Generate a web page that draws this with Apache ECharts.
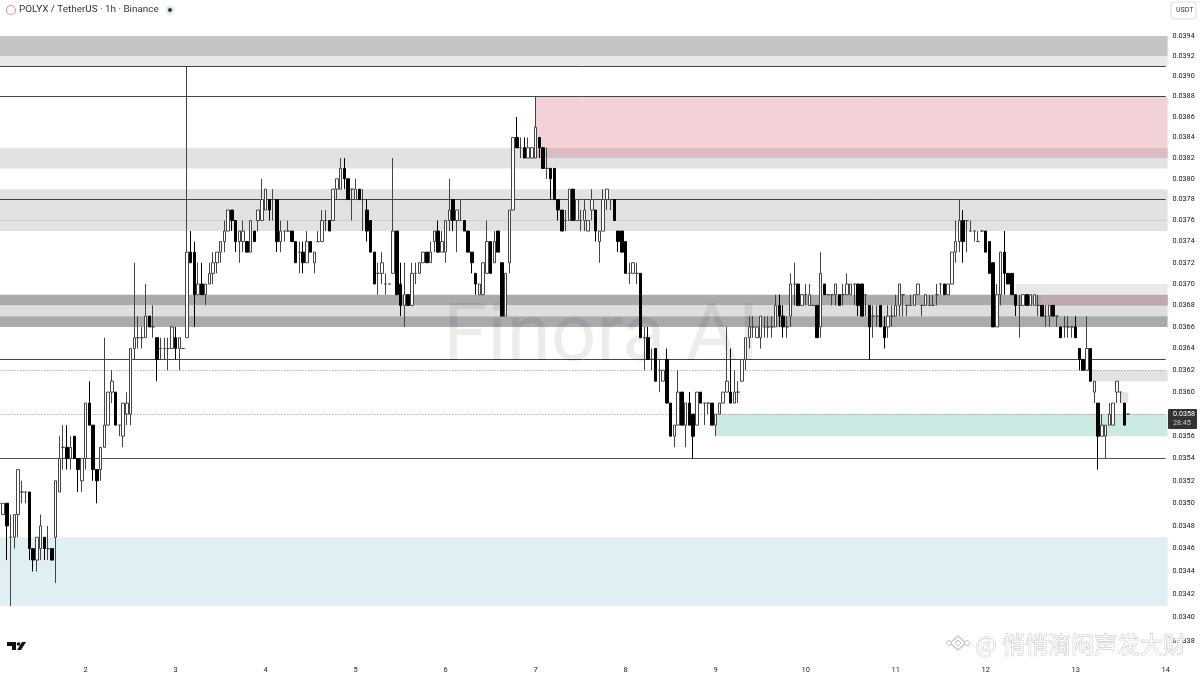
<!DOCTYPE html>
<html><head><meta charset="utf-8">
<style>html,body{margin:0;padding:0;background:#fff;overflow:hidden;width:1200px;height:675px}#c{position:absolute;left:-10px;top:0;width:1210px;height:675px}</style>
<script src="https://cdn.jsdelivr.net/npm/echarts@6/dist/echarts.min.js"></script>
</head><body><div id="c"></div>
<script>
// Candles per calendar day: [open, close, low, high] in price ticks of 0.0001
const priceTick = 0.0001;
const day01 = [[350,350,349,350],[349,350,349,350],[350,348,345,350],[347,347,341,349],[347,349,346,349],[349,353,347,353],[351,351,350,352],[351,351,350,351],[351,346,345,351],[346,345,344,346],[345,347,344,347],[346,348,345,349],[347,346,345,347],[346,346,345,348],[346,345,345,346],[347,352,343,352],[351,354,351,356],[355,355,353,357],[355,354,353,357],[354,355,353,356],[356,354,354,356],[354,353,351,354],[352,354,351,354]];
const day02 = [[354,359,353,359],[359,357,357,361],[357,353,352,357],[353,352,350,353],[353,355,352,355],[355,357,355,365],[357,360,357,360],[360,361,359,362],[360,357,357,360],[357,357,356,357],[356,359,355,359],[358,359,357,360],[358,364,357,364],[364,365,363,372],[365,365,364,367],[365,365,364,366],[365,367,365,370],[367,366,366,367],[366,366,365,368],[365,363,361,365],[364,364,363,365],[364,364,363,365],[364,364,362,365],[364,366,364,366]];
const day03 = [[365,364,363,366],[364,365,362,365],[364,364,364,364],[365,373,365,391],[373,372,372,375],[373,369,366,374],[369,370,369,372],[370,369,369,372],[369,370,368,370],[370,371,370,372],[371,372,370,373],[372,373,371,373],[373,374,372,374],[374,375,373,376],[375,377,375,377],[377,376,375,377],[376,374,373,376],[374,375,372,375],[374,375,373,376],[374,373,373,374],[373,376,373,376],[375,374,374,375],[376,377,375,377],[376,378,376,380]];
const day04 = [[377,379,377,379],[378,377,376,378],[378,378,376,379],[378,374,373,378],[374,375,373,376],[375,375,374,375],[375,375,375,376],[375,374,374,375],[374,372,372,374],[373,373,371,374],[373,372,371,374],[372,374,372,375],[374,373,373,374],[372,373,371,373],[374,374,374,375],[374,376,374,377],[376,376,375,377],[376,375,375,376],[376,379,376,379],[379,380,378,380],[379,381,379,382],[381,380,379,382],[380,378,378,380],[379,379,376,379]];
const day05 = [[378,379,378,380],[379,378,378,379],[378,378,375,379],[377,375,374,378],[376,373,373,376],[373,370,370,373],[371,371,369,372],[371,372,370,373],[370,370,369,371],[370,370,370,370],[371,375,371,382],[375,369,369,375],[370,368,367,372],[368,369,366,372],[369,368,368,369],[368,371,368,372],[371,371,370,372],[371,372,371,372],[372,373,372,373],[373,372,372,373],[372,373,372,374],[374,375,373,375],[375,373,373,376],[373,374,373,375]];
const day06 = [[373,376,372,376],[376,377,375,380],[378,376,375,378],[376,377,373,377],[376,376,376,378],[376,375,375,376],[375,373,373,375],[373,372,371,373],[371,370,369,371],[369,370,369,370],[369,372,369,372],[371,374,371,376],[374,371,371,374],[372,374,372,375],[375,373,373,375],[372,367,367,372],[367,371,367,371],[372,377,371,377],[377,384,377,384],[384,383,383,386],[383,383,382,384],[383,382,382,384],[382,383,382,384],[382,383,382,383]];
const day07 = [[382,385,382,388],[384,383,382,384],[383,381,381,383],[381,381,380,383],[381,380,378,381],[381,378,378,381],[378,377,376,378],[377,375,375,377],[376,376,375,377],[376,379,376,379],[379,376,376,379],[376,378,376,378],[376,376,375,377],[376,377,375,378],[375,376,375,376],[377,378,376,379],[377,375,374,377],[374,375,372,375],[375,378,375,379],[378,379,377,379],[378,378,377,378],[378,376,376,378],[375,374,373,375],[375,373,373,375]];
const day08 = [[374,371,371,374],[371,371,370,372],[371,372,371,372],[371,371,370,372],[371,365,365,371],[365,365,362,366],[365,363,363,366],[363,363,362,364],[364,361,361,364],[362,362,360,363],[361,362,361,362],[363,359,359,364],[359,356,356,359],[356,357,355,357],[357,360,357,362],[360,357,357,360],[357,359,355,359],[359,357,357,360],[358,356,354,358],[357,360,357,360],[360,359,359,360],[359,359,357,359],[359,359,358,359],[359,357,357,359]];
const day09 = [[357,358,356,358],[358,359,358,359],[359,360,359,360],[360,361,360,366],[360,359,359,364],[359,360,359,362],[360,360,359,361],[361,363,361,363],[363,365,362,365],[365,366,364,367],[366,366,365,367],[365,366,365,366],[365,367,364,367],[366,366,365,367],[366,366,365,367],[366,366,365,367],[366,368,366,369],[368,367,366,369],[367,366,365,368],[366,366,365,367],[367,370,366,371],[370,370,368,372],[370,368,368,370],[368,369,368,369]];
const day10 = [[369,369,368,370],[368,369,368,370],[368,368,368,368],[368,365,365,368],[366,371,365,373],[370,369,369,370],[369,369,369,369],[369,369,368,369],[369,370,368,370],[369,368,368,369],[369,369,368,370],[369,370,369,371],[369,370,369,370],[370,370,368,370],[370,368,367,370],[370,367,367,370],[369,369,367,369],[368,366,363,368],[367,367,365,368],[367,367,366,368],[368,366,366,368],[366,365,364,367],[366,367,365,368],[367,367,366,368]];
const day11 = [[367,368,367,369],[368,370,367,370],[369,369,367,369],[368,368,367,368],[368,368,368,369],[368,369,368,369],[369,370,369,370],[368,368,367,368],[368,369,368,369],[368,368,368,369],[368,368,368,369],[369,369,368,370],[370,370,369,370],[370,369,369,370],[369,370,369,370],[370,373,370,373],[373,374,372,376],[374,376,373,378],[376,374,372,377],[376,376,373,376],[375,375,375,376],[375,375,374,375],[374,374,374,375],[375,375,375,375]];
const day12 = [[375,373,373,375],[374,371,371,374],[372,366,366,372],[366,369,366,370],[369,373,368,373],[373,371,369,375],[371,370,370,371],[371,369,369,371],[369,368,367,369],[368,368,365,369],[368,369,368,369],[369,368,368,369],[368,369,368,369],[368,369,368,369],[368,368,367,369],[368,367,367,368],[367,367,366,368],[367,368,366,368],[368,367,367,368],[367,367,366,367],[366,365,365,366],[366,366,365,367],[366,366,365,367],[366,366,365,366]];
const day13 = [[366,365,365,367],[364,363,362,364],[363,362,362,363],[362,364,362,367],[364,361,361,364],[360,361,359,361],[359,356,353,359],[356,357,356,358],[356,357,354,357],[357,358,357,359],[357,359,357,359],[360,361,359,361],[360,360,359,360],[359,357,357,359],[358,358,358,358]];

const priceTicks = [0.0338,0.0340,0.0342,0.0344,0.0346,0.0348,0.0350,0.0352,0.0354,0.0356,0.0358,0.0360,0.0362,0.0364,0.0366,0.0368,0.0370,0.0372,0.0374,0.0376,0.0378,0.0380,0.0382,0.0384,0.0386,0.0388,0.0390,0.0392,0.0394];
const dayLabels = ['2','3','4','5','6','7','8','9','10','11','12','13','14'];
const firstDayIndex = 23, hoursPerDay = 24, slotCount = 312;

// Price levels: solid and dotted horizontal lines
const solidLevels = [0.0391,0.0388,0.0378,0.0363,0.0354];
const dottedLevels = [0.0362,0.0358];
const faintLevels = [0.0376];
// Zones: [top price, bottom price, first candle index or null, last candle index or null, kind]
const zones = [
  [0.0394,0.0392,null,null,'greyMid'],
  [0.0392,0.0391,null,null,'greyLight'],
  [0.0383,0.0381,null,null,'greyBand'],
  [0.0388,0.0383,143,null,'red'],
  [0.0383,0.0382,143,null,'redOverGrey'],
  [0.0379,0.0375,null,null,'greyBand'],
  [0.0369,0.0368,null,null,'greyDark'],
  [0.0368,0.0367,null,null,'greyLight2'],
  [0.0367,0.0366,null,null,'greyDark'],
  [0.0370,0.0369,271,null,'greyLight'],
  [0.0369,0.0368,278,null,'pink'],
  [0.0362,0.0361,291,null,'greyBand'],
  [0.0360,0.0359,299,301,'greyBand'],
  [0.0358,0.0356,191,null,'green'],
  [0.0347,0.0341,null,null,'blue']
];
const zoneColors = {greyMid:'#c4c4c6',greyLight:'#e8e8ea',greyBand:'#e1e2e4',red:'#f2d2d7',redOverGrey:'#dcbcc2',greyDark:'#aaaaad',greyLight2:'#dedee0',pink:'#bfa9ad',green:'#cde9e3',blue:'#e0eff3'};

const candles = [].concat(day01,day02,day03,day04,day05,day06,day07,day08,day09,day10,day11,day12,day13);
const categories = Array.from({length:slotCount},(_,i)=>{
  const k=(i-firstDayIndex)/hoursPerDay;
  return Number.isInteger(k)&&k>=0?dayLabels[k]:'';
});
const seriesData = candles.map(r=>r.map(v=>+(v*priceTick).toFixed(4)));
const areaData = zones.map(z=>{
  const a={yAxis:z[0],itemStyle:{color:zoneColors[z[4]],opacity:1}}, b={yAxis:z[1]};
  if(z[2]!==null)a.xAxis=z[2];
  if(z[3]!==null)b.xAxis=z[3];
  return [a,b];
});
const lineItem=(v,style)=>[{coord:[0,v],lineStyle:style},{coord:[slotCount-1,v]}];
const lineData=[
  ...faintLevels.map(v=>lineItem(v,{color:'#cfcfd1',width:1,type:'solid'})),
  ...solidLevels.map(v=>lineItem(v,{color:v===0.0354?'#555':'#444',width:v===0.0354?1.2:1,type:'solid'})),
  ...dottedLevels.map(v=>lineItem(v,{color:'#888',width:1,type:[1,2]}))
];

const chart = echarts.init(document.getElementById('c'),null,{renderer:'canvas'});
const FONT='Roboto';
const off=10; // the canvas starts 10px left of the page
const label=(x,y,text,size,fill,z,extra)=>({type:'text',z,x:x+off,y,silent:true,style:Object.assign({text,fontFamily:FONT,fontSize:size,fill,align:'left',verticalAlign:'top'},extra||{})});
const poly=(pts,style,z)=>({type:'polygon',z,shape:{points:pts.map(p=>[p[0]+off,p[1]])},style});
chart.setOption({
  animation:false,backgroundColor:'#fff',
  grid:{left:7.575,right:32.425,top:20,bottom:20,containLabel:false},
  xAxis:{type:'category',data:categories,boundaryGap:true,
    axisLine:{show:false},axisTick:{show:false},splitLine:{show:false},
    axisLabel:{interval:(i)=>categories[i]!=='',margin:11,fontSize:7.5,color:'#222',fontFamily:FONT,hideOverlap:false}},
  yAxis:{type:'log',logBase:10,position:'right',min:0.03368,max:0.03956,
    axisLine:{show:false},axisTick:{show:false},splitLine:{show:false},minorTick:{show:false},minorSplitLine:{show:false},
    axisLabel:{customValues:priceTicks,formatter:(v)=>(+v).toFixed(4),margin:5,padding:[4,0,0,0],fontSize:7.2,color:'#111',fontFamily:FONT,hideOverlap:false}},
  series:[{
    type:'candlestick',z:5,data:seriesData,barWidth:3,silent:true,
    itemStyle:{color:'#ffffff',color0:'#000000',borderColor:'#444444',borderColor0:'#000000',borderColorDoji:'#444444',borderWidth:1},
    markArea:{silent:true,z:1,data:areaData},
    markLine:{silent:true,z:2,symbol:['none','none'],animation:false,label:{show:false},data:lineData}
  }],
  graphic:[
    label(443,300,'Finora AI',80,'rgba(0,0,20,0.075)',3),
    {type:'circle',z:20,shape:{cx:11+off,cy:10,r:4.5},style:{fill:'#fff',stroke:'#d99a9a',lineWidth:1.2}},
    label(19,5,'POLYX / TetherUS · 1h · Binance',9.9,'#333',20),
    {type:'circle',z:20,shape:{cx:170+off,cy:10,r:4.5},style:{fill:'#d5eeee'}},
    {type:'circle',z:21,shape:{cx:170+off,cy:10,r:2},style:{fill:'#333'}},
    {type:'rect',z:20,shape:{x:1171+off,y:2,width:25,height:17,r:3},style:{fill:'#fff',stroke:'#ddd',lineWidth:1}},
    label(1176,7,'USDT',7,'#333',21),
    {type:'rect',z:20,shape:{x:1168+off,y:409,width:29,height:20,r:1},style:{fill:'#333'}},
    label(1173,411,'0.0358',7.2,'#fff',21),
    label(1173,420,'28:45',7.2,'#ccc',21),
    poly([[7,642],[16,642],[16,650],[12,650],[12,646],[7,646]],{fill:'#111'},20),
    {type:'circle',z:20,shape:{cx:18.5+off,cy:644,r:1.8},style:{fill:'#111'}},
    poly([[22,642],[26,642],[21,650],[17,650]],{fill:'#111'},20),
    poly([[958,636],[966,643],[958,650],[950,643]],{fill:'#fff',stroke:'#c8c8c8',lineWidth:1.4},30),
    poly([[958,640],[961,643],[958,646],[955,643]],{fill:'#fff',stroke:'#c8c8c8',lineWidth:1},30),
    poly([[946,643],[949,640],[952,643],[949,646]],{fill:'#fff',stroke:'#c8c8c8',lineWidth:1},30),
    poly([[964,643],[967,640],[970,643],[967,646]],{fill:'#fff',stroke:'#c8c8c8',lineWidth:1},30),
    label(975,633,'@ 悄悄滴闷声发大财',23,'rgba(255,255,255,0.85)',30,{fontFamily:'Noto Sans CJK SC',stroke:'#bdbdbd',lineWidth:0.8})
  ]
});
</script></body></html>
